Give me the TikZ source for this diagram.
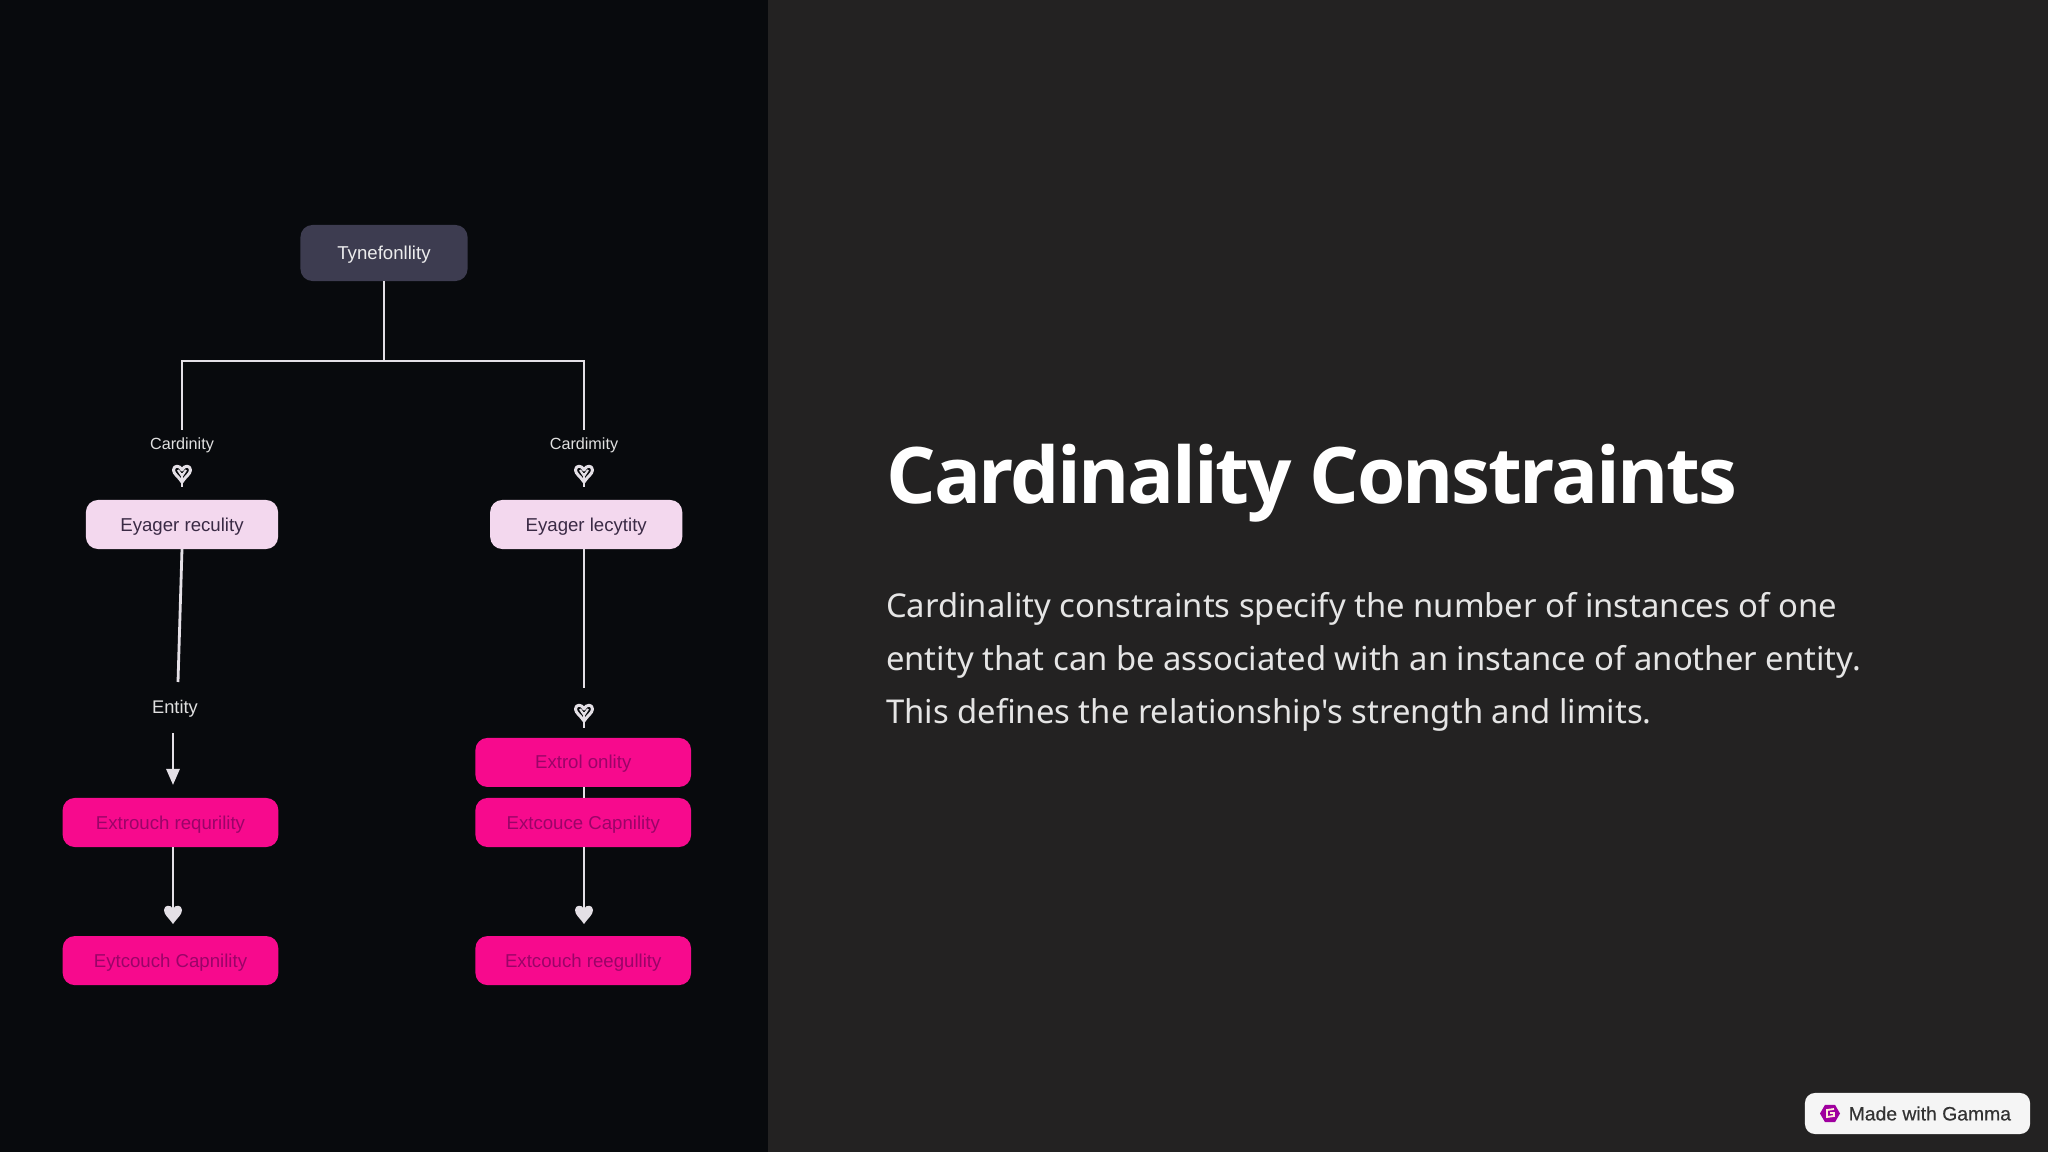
\documentclass[tikz,border=0pt]{standalone}
\usepackage{fontspec}
\newfontfamily\bodyfont{Noto Sans}
\newfontfamily\titlefont[LetterSpace=-3.0]{Open Sans}
\newfontfamily\boxfont{Liberation Sans}
\newfontfamily\badgefont[FakeBold=0.4]{Liberation Sans}
\usetikzlibrary{positioning,arrows.meta,shapes.geometric}
\definecolor{panel}{HTML}{080A0D}
\definecolor{slide}{HTML}{232222}
\definecolor{wire}{HTML}{E4E0E6}
\definecolor{slate}{HTML}{3D3C50}
\definecolor{blush}{HTML}{F3D8EE}
\definecolor{hotpink}{HTML}{F70A8D}
\definecolor{plum}{HTML}{9A0468}
\definecolor{ink}{HTML}{3A2A45}

\begin{document}
\begin{tikzpicture}
  [x=0.01cm,y=-0.01cm,
  boxtext/.style={rectangle,rounded corners=0.12cm,inner sep=0pt,outer sep=0pt,
                text height=4.4pt,text depth=0.7pt,
                font=\boxfont\fontsize{5.3pt}{6pt}\selectfont},
  topbox/.style={boxtext,fill=slate,text=white!90!slate,
                minimum width=1.67cm,minimum height=0.56cm},
  palebox/.style={boxtext,fill=blush,text=ink,
                minimum width=1.92cm,minimum height=0.49cm},
  hotbox/.style={boxtext,fill=hotpink,text=plum,
                minimum width=2.155cm,minimum height=0.49cm},
  tag/.style={text=white!88!black,inner sep=0pt,
                text height=3.8pt,text depth=0.6pt,
                font=\boxfont\fontsize{4.6pt}{5pt}\selectfont},
  link/.style={draw=wire,line width=0.028cm},
  solidheart/.pic={\fill[wire] (0,11) .. controls (-4,5) and (-9,2) .. (-9,-3)
                .. controls (-9,-8) and (-2,-9) .. (0,-4)
                .. controls (2,-9) and (9,-8) .. (9,-3)
                .. controls (9,2) and (4,5) .. (0,11) -- cycle;},
  hollowheart/.pic={\draw[wire,line width=0.03cm,line join=round]
                (0,9) .. controls (-3,4) and (-8.5,1) .. (-8.5,-3)
                .. controls (-8.5,-8) and (-2,-8) .. (0,-3)
                .. controls (2,-8) and (8.5,-8) .. (8.5,-3)
                .. controls (8.5,1) and (3,4) .. (0,9) -- cycle;
                \draw[wire,line width=0.022cm] (-4,-3) -- (0,3) -- (4,-3);}]

  % backgrounds
  \fill[slide] (0,0) rectangle (2048,1152);
  \fill[panel] (0,0) rectangle (768,1152);

  % boxes
  \node[topbox]  (tyne)     at (384,253)     {Tynefonllity};
  \node[palebox] (eyagerL)  at (182,524.5)   {Eyager reculity};
  \node[palebox] (eyagerR)  [right=2.12cm of eyagerL] {Eyager lecytity};
  \node[hotbox]  (extrouch) at (170.5,822.5) {Extrouch requrility};
  \node[hotbox]  (eytcouch) [below=0.89cm of extrouch] {Eytcouch Capnility};
  \node[hotbox]  (extcouce) [right=1.97cm of extrouch] {Extcouce Capnility};
  \node[hotbox]  (extrol)   [above=0.11cm of extcouce] {Extrol onlity};
  \node[hotbox]  (extreq)   [below=0.89cm of extcouce] {Extcouch reegullity};

  % labels
  \node[tag] (cardL)  at (182,444) {Cardinity};
  \node[tag] (cardR)  at (584,444) {Cardimity};
  \node[tag,font=\boxfont\fontsize{5.2pt}{6pt}\selectfont] (entity) at (175,708) {Entity};

  % free ends
  \coordinate (bus)      at (384,361);
  \coordinate (dropL)    at (182,430);
  \coordinate (dropR)    at (584,430);
  \coordinate (heartL)   at (182,473);
  \coordinate (heartR)   at (584,473);
  \coordinate (heartM)   at (584,712);
  \coordinate (tailL)    at (182,487);
  \coordinate (tailR)    at (584,487);
  \coordinate (tailM)    at (584,728);
  \coordinate (lineL)    at (178,682);
  \coordinate (lineR)    at (584,688);
  \coordinate (arrowTop) at (173,733);
  \coordinate (arrowEnd) at (173,785);
  \coordinate (solidL)   at (173,913);
  \coordinate (solidR)   at (584,913);

  \draw[link] (tyne.south) -- (bus);
  \draw[link] (dropL) |- (bus) -| (dropR);
  \draw[link,line width=0.018cm] (heartL) -- (tailL);
  \draw[link,line width=0.018cm] (heartR) -- (tailR);
  \draw[link,line width=0.018cm] (heartM) -- (tailM);
  \draw[link] (eyagerL.south) -- (lineL);
  \draw[link] (eyagerR.south -| lineR) -- (lineR);
  \draw[link,-{Triangle[length=0.16cm,width=0.13cm]}] (arrowTop) -- (arrowEnd);
  \draw[link] (extrol.south -| lineR) -- (extcouce.north -| lineR);
  \draw[link] (extrouch.south -| solidL) -- (solidL);
  \draw[link] (extcouce.south -| solidR) -- (solidR);

  \pic at (heartL) {hollowheart};
  \pic at (heartR) {hollowheart};
  \pic at (heartM) {hollowheart};
  \pic at (solidL) {solidheart};
  \pic at (solidR) {solidheart};

  % text side
  \node[anchor=west,inner sep=0pt,text=white,
        font=\titlefont\bfseries\fontsize{22.2pt}{26pt}\selectfont]
        (title) at (886,483) {Cardinality Constraints};
  \node[inner sep=0pt,align=left,text=white!90!black,
        font=\bodyfont\fontsize{9.33pt}{15.08pt}\selectfont]
        (body) [anchor=north west] at (885.5,592)
        {Cardinality constraints specify the number of instances of one\\
         entity that can be associated with an instance of another entity.\\
         This defines the relationship's strength and limits.};

  % badge
  \node[rectangle,rounded corners=0.1cm,fill=white!96!black,text=black!80,
        minimum width=2.25cm,minimum height=0.41cm,inner sep=0pt]
        (badge) at (1917.5,1113.5) {};
  \node[anchor=west,inner sep=0pt,text=black!80,
        font=\badgefont\fontsize{5.5pt}{6pt}\selectfont]
        (madewith) at (1848,1113.5) {Made with Gamma};
  \node[regular polygon,regular polygon sides=6,fill=violet!75!magenta,
        minimum size=0.2cm,inner sep=0pt] (logo) at (1830,1113.5) {};
  \draw[white!85!orange,line width=0.018cm] (1834,1109) -- (1827,1110) -- (1827,1117) -- (1834,1116) -- (1834,1113) -- (1830,1113);
\end{tikzpicture}
\end{document}
